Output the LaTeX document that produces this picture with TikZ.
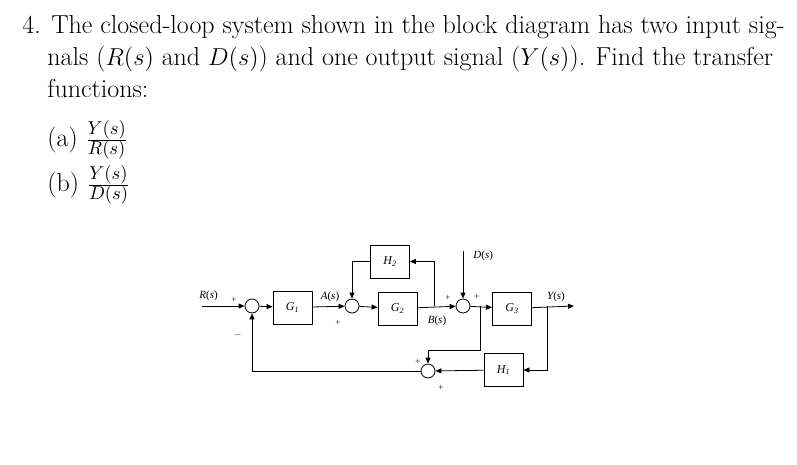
\documentclass[tikz,border=0pt]{standalone}
\usepackage{fontspec}
\usepackage{graphicx}
\newfontfamily\tms{Liberation Serif}
\usetikzlibrary{arrows.meta}
\newcommand{\bigt}[1]{\scalebox{1.7}{#1}}
\begin{document}
\begin{tikzpicture}[x=1pt,y=-1pt,line width=0.8pt,
 blk/.style={draw,minimum width=39pt,minimum height=33pt,inner sep=0pt,font=\tms\fontsize{12}{12}\selectfont},
 sm/.style={draw,circle,minimum size=14pt,inner sep=0pt},
 lab/.style={font=\tms\fontsize{11}{11}\selectfont,inner sep=1pt},
 sg/.style={font=\tms\fontsize{9}{9}\selectfont,inner sep=0pt},
 txt/.style={anchor=base west,inner sep=0pt,font=\fontsize{15.3}{18}\selectfont},
 ar/.style={-{Triangle[length=6pt,width=5pt]}}]
\useasboundingbox (0,0) rectangle (797,464);
\node[txt] (l1) at (22,33) {\bigt{4. The closed-loop system shown in the block diagram has two input sig-}};
\node[txt] (l2) at (47,65) {\bigt{nals ($R(s)$ and $D(s)$) and one output signal ($Y(s)$). Find the transfer}};
\node[txt] (l3) at (47,97) {\bigt{functions:}};
\node[txt] (a) at (47,146) {\bigt{(a) $\frac{Y(s)}{R(s)}$}};
\node[txt] (b) at (47,191) {\bigt{(b) $\frac{Y(s)}{D(s)}$}};
\node[sm] (s1) at (252,306) {};
\node[sm] (s2) at (352,306) {};
\node[sm] (s3) at (463,306) {};
\node[sm] (s4) at (428,371) {};
\node[blk] (g1) at (292.5,307.5) {\itshape G\textsubscript{1}};
\node[blk] (g2) at (397.5,308.5) {\itshape G\textsubscript{2}};
\node[blk] (h2) at (390,261.5) {\itshape H\textsubscript{2}};
\node[blk] (g3) at (512,308.5) {\itshape G\textsubscript{3}};
\node[blk] (h1) at (503.5,370) {\itshape H\textsubscript{1}};
\coordinate (rin) at (202,306);
\coordinate (yout) at (574,306);
\coordinate (din) at (463,251);
\coordinate (bb) at (434,306);
\coordinate (cb) at (480,306);
\coordinate (yb) at (547,306);
\draw[ar] (rin) -- (s1);
\draw[ar] (s1) -- (g1);
\draw[ar] (g1) -- (s2);
\draw[ar] (s2) -- (g2);
\draw[ar] (g2) -- (s3);
\draw[ar] (bb) |- (h2);
\draw[ar] (h2.west) -| (s2);
\draw[ar] (din) -- (s3);
\draw[ar] (s3) -- (g3);
\draw[ar] (g3) -- (yout);
\draw[ar] (yb) |- (h1);
\draw[ar] (h1) -- (s4);
\draw[ar] (cb) |- (428,350) -- (s4);
\draw[ar] (s4) -| (s1);
\node[lab,anchor=south west] (rl) at (198,302) {\itshape R\upshape(\itshape s\upshape)};
\node[lab,anchor=south] (al) at (330,303) {\itshape A\upshape(\itshape s\upshape)};
\node[lab,anchor=north] (bl) at (437,314) {\itshape B\upshape(\itshape s\upshape)};
\node[lab,anchor=west] (dl) at (472,256) {\itshape D\upshape(\itshape s\upshape)};
\node[lab,anchor=south] (yl) at (556,303) {\itshape Y\upshape(\itshape s\upshape)};
\node[sg] at (234,300) {+};
\node[sg] at (238,335) {$-$};
\node[sg] at (338,323) {+};
\node[sg] at (448,298) {+};
\node[sg] at (477,297) {+};
\node[sg] at (418,362) {+};
\node[sg] at (441,388) {+};
\end{tikzpicture}
\end{document}
